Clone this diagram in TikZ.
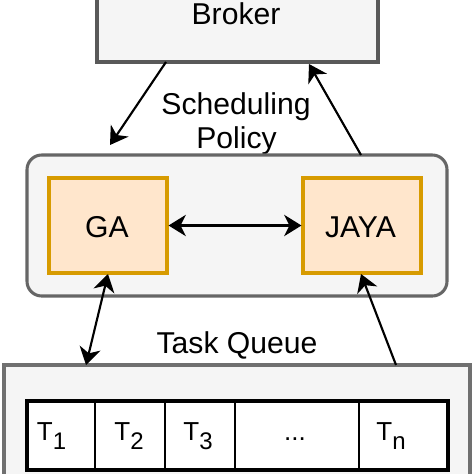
\documentclass[tikz,border=0pt]{standalone}
\usepackage{fontspec}
\setmainfont{Liberation Sans}
\usetikzlibrary{arrows.meta}
\definecolor{boxfill}{HTML}{F5F5F5}
\definecolor{brokerdraw}{HTML}{595959}
\definecolor{contdraw}{HTML}{666666}
\definecolor{algofill}{HTML}{FFE6CC}
\definecolor{algodraw}{HTML}{D79B00}
\definecolor{queuedraw}{HTML}{707070}
\newcommand\Tsub[1]{T\raisebox{-7pt}{\fontsize{18}{18}\selectfont #1}}
\tikzset{
  big/.style={font=\fontsize{22.6}{25}\selectfont, inner sep=0pt},
  small/.style={font=\fontsize{19.5}{20}\selectfont, inner sep=0pt, anchor=base},
  graybox/.style={draw=brokerdraw, fill=boxfill, line width=3pt, inner sep=0pt},
  algo/.style={draw=algodraw, fill=algofill, line width=2.3pt, inner sep=0pt,
    minimum width=88.5pt, minimum height=71.25pt},
  cell/.style={draw=black, fill=white, line width=1.1pt, inner sep=0pt, minimum height=51.75pt},
  conn/.style={line width=1.6pt, black, -{Stealth[length=13pt,width=16pt,inset=4pt]}},
  biconn/.style={line width=1.6pt, black, {Stealth[length=13pt,width=16pt,inset=4pt]}-{Stealth[length=13pt,width=16pt,inset=4pt]}},
}
\begin{document}
\begin{tikzpicture}[x=0.75pt,y=-0.75pt]
\useasboundingbox (0,0) rectangle (474,474);
% Broker
\node[graybox, minimum width=210.75pt, minimum height=61.5pt] (broker) at (237.5,21) {};
\node[big, anchor=base] (brokerlabel) at (236,25) {Broker};
% Scheduling policy label
\node[big, anchor=base] (sched1) at (236,115) {Scheduling};
\node[big, anchor=base] (sched2) at (236.5,148) {Policy};
% container
\node[draw=contdraw, fill=boxfill, line width=2.3pt, rounded corners=11pt,
  minimum width=315pt, minimum height=105.75pt, inner sep=0pt] (cont) at (237,225.5) {};
\node[algo] (ga) at (108,225.5) {};
\node[algo] (jaya) at (362,225.5) {};
\node[big, anchor=base] (galabel) at (107,237) {GA};
\node[big, anchor=base] (jayalabel) at (360.5,237) {JAYA};
% queue
\node[draw=queuedraw, fill=boxfill, line width=2.3pt, inner sep=0pt,
  minimum width=349.5pt, minimum height=101.25pt] (queue) at (237,432.5) {};
\node[big, anchor=base] (queuelabel) at (237,353) {Task Queue};
\node[cell, minimum width=51pt] (c1) at (61,435.5) {};
\node[cell, minimum width=52.5pt] (c2) at (130,435.5) {};
\node[cell, minimum width=52.5pt] (c3) at (200,435.5) {};
\node[cell, minimum width=93pt] (c4) at (297,435.5) {};
\node[cell, minimum width=66.75pt] (c5) at (403.5,435.5) {};
\node[draw=black, line width=2.8pt, inner sep=0pt, minimum width=315.75pt,
  minimum height=51.75pt] (inner) at (237.5,435.5) {};
\node[small] (t1) at (51.5,440) {\Tsub{1}};
\node[small] (t2) at (129,440) {\Tsub{2}};
\node[small] (t3) at (198,440) {\Tsub{3}};
\node[small] (t4) at (295,440) {...};
\node[small] (t5) at (391,440) {\Tsub{n}};
% connector endpoints
\coordinate (b1) at (166,62);
\coordinate (p1) at (110,145);
\coordinate (p2) at (361,155);
\coordinate (b2) at (309,64);
\coordinate (q1) at (86,365);
\coordinate (q2) at (396,365);
\coordinate (ja) at (361,274);
\coordinate (gb) at (108,274);
\draw[conn] (b1) -- (p1);
\draw[conn] (p2) -- (b2);
\draw[biconn] (ga.east) -- (jaya.west);
\draw[biconn] (gb) -- (q1);
\draw[conn] (q2) -- (ja);
\end{tikzpicture}
\end{document}
